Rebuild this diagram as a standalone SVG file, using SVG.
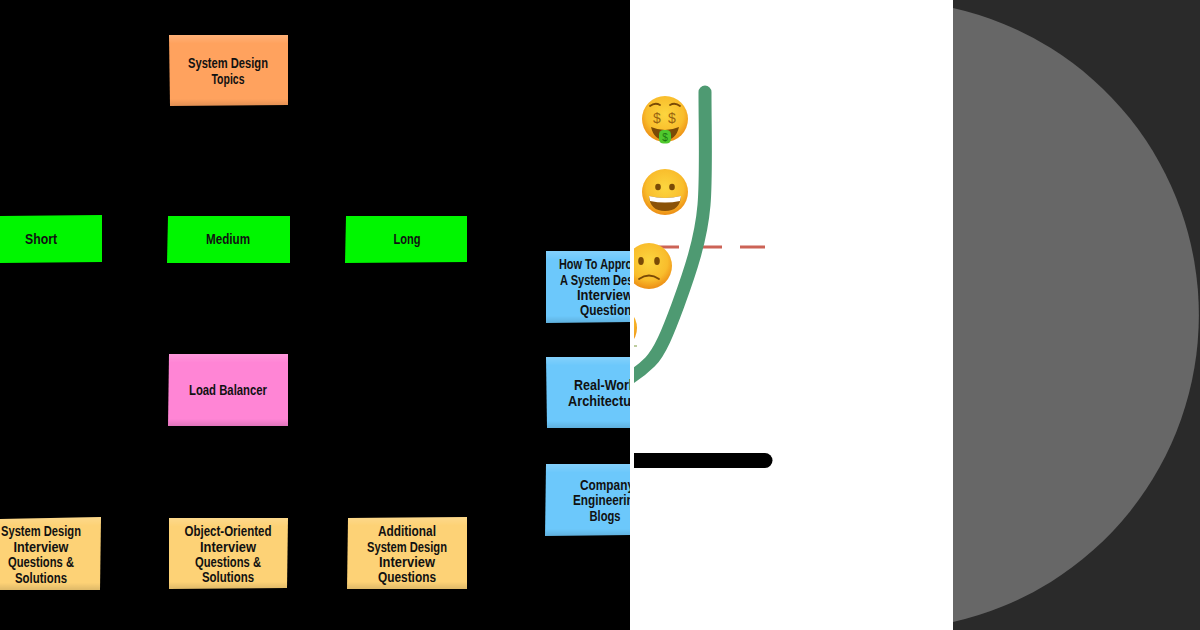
<svg xmlns="http://www.w3.org/2000/svg" width="1200" height="630" viewBox="0 0 1200 630">
<defs>
<radialGradient id="face" cx="0.5" cy="0.4" r="0.62"><stop offset="0" stop-color="#fcd63f"/><stop offset="0.65" stop-color="#f9bd2c"/><stop offset="0.92" stop-color="#ee9418"/><stop offset="1" stop-color="#e98a14"/></radialGradient>
<linearGradient id="sheen" x1="0" y1="0" x2="0" y2="1"><stop offset="0" stop-color="#fff" stop-opacity=".16"/><stop offset=".12" stop-color="#fff" stop-opacity="0"/><stop offset=".9" stop-color="#000" stop-opacity="0"/><stop offset="1" stop-color="#000" stop-opacity=".12"/></linearGradient>
<clipPath id="panel"><rect x="634" y="0" width="319" height="630"/></clipPath>
<clipPath id="left"><rect x="0" y="0" width="630" height="630"/></clipPath>
</defs>
<style>
.o{fill:#ffa25e}.g{fill:#00f600}.p{fill:#ff85d5}.y{fill:#fdd276}.b{fill:#6cc8fb}
.s{fill:url(#sheen)}
.t{font-family:"Liberation Sans",Arial,sans-serif;font-weight:700;font-size:15.500px;fill:#111;text-anchor:middle}
.eye{fill:#7a4a06}.m{fill:none;stroke:#7a4a06;stroke-width:1.800;stroke-linecap:round}
.d{font-family:"Liberation Sans",Arial,sans-serif;font-size:14px;fill:#9a6410;text-anchor:middle}
</style>
<rect width="1200" height="630" fill="#000"/>
<g clip-path="url(#left)">
<g id="topics"><polygon class="o" points="169,35 288,35 288,105 170,106"/><polygon class="s" points="169,35 288,35 288,105 170,106"/><text class="t" x="228" y="68" textLength="80" lengthAdjust="spacingAndGlyphs">System Design</text><text class="t" x="228" y="84" textLength="33" lengthAdjust="spacingAndGlyphs">Topics</text></g>
<g id="short"><polygon class="g" points="0,216 102,215 102,262 0,263"/><text class="t" x="41" y="244" textLength="32" lengthAdjust="spacingAndGlyphs">Short</text></g>
<g id="medium"><polygon class="g" points="168,216 290,216 290,263 167,263"/><text class="t" x="228" y="244" textLength="44" lengthAdjust="spacingAndGlyphs">Medium</text></g>
<g id="long"><polygon class="g" points="346,216 467,216 467,262 345,263"/><text class="t" x="407" y="244" textLength="27" lengthAdjust="spacingAndGlyphs">Long</text></g>
<g id="load-balancer"><polygon class="p" points="169,354 288,354 288,426 168,426"/><polygon class="s" points="169,354 288,354 288,426 168,426"/><text class="t" x="228" y="395" textLength="78" lengthAdjust="spacingAndGlyphs">Load Balancer</text></g>
<g id="sd-questions"><polygon class="y" points="0,519 101,517 100,590 0,590"/><polygon class="s" points="0,519 101,517 100,590 0,590"/><text class="t" x="41" y="536" textLength="80" lengthAdjust="spacingAndGlyphs">System Design</text><text class="t" x="41" y="552" textLength="55" lengthAdjust="spacingAndGlyphs">Interview</text><text class="t" x="41" y="567" textLength="66" lengthAdjust="spacingAndGlyphs">Questions &amp;</text><text class="t" x="41" y="583" textLength="52" lengthAdjust="spacingAndGlyphs">Solutions</text></g>
<g id="oo-questions"><polygon class="y" points="169,518 288,518 287,588 169,589"/><polygon class="s" points="169,518 288,518 287,588 169,589"/><text class="t" x="228" y="536" textLength="87" lengthAdjust="spacingAndGlyphs">Object-Oriented</text><text class="t" x="228" y="552" textLength="56" lengthAdjust="spacingAndGlyphs">Interview</text><text class="t" x="228" y="567" textLength="66" lengthAdjust="spacingAndGlyphs">Questions &amp;</text><text class="t" x="228" y="582" textLength="52" lengthAdjust="spacingAndGlyphs">Solutions</text></g>
<g id="additional"><polygon class="y" points="348,518 467,517 467,589 347,589"/><polygon class="s" points="348,518 467,517 467,589 347,589"/><text class="t" x="407" y="536" textLength="58" lengthAdjust="spacingAndGlyphs">Additional</text><text class="t" x="407" y="552" textLength="80" lengthAdjust="spacingAndGlyphs">System Design</text><text class="t" x="407" y="567" textLength="56" lengthAdjust="spacingAndGlyphs">Interview</text><text class="t" x="407" y="582" textLength="58" lengthAdjust="spacingAndGlyphs">Questions</text></g>
<g id="approach"><polygon class="b" points="546,251 640,251 640,322 546,323"/><polygon class="s" points="546,251 640,251 640,322 546,323"/><text class="t" x="605" y="269" textLength="92" lengthAdjust="spacingAndGlyphs">How To Approach</text><text class="t" x="605" y="285" textLength="90" lengthAdjust="spacingAndGlyphs">A System Design</text><text class="t" x="605" y="300" textLength="56" lengthAdjust="spacingAndGlyphs">Interview</text><text class="t" x="609" y="315" textLength="58" lengthAdjust="spacingAndGlyphs">Questions</text></g>
<g id="real-world"><polygon class="b" points="546,357 640,357 640,428 547,428"/><polygon class="s" points="546,357 640,357 640,428 547,428"/><text class="t" x="607" y="390" textLength="66" lengthAdjust="spacingAndGlyphs">Real-World</text><text class="t" x="609" y="406" textLength="82" lengthAdjust="spacingAndGlyphs">Architectures</text></g>
<g id="blogs"><polygon class="b" points="546,464 640,464 640,535 545,536"/><polygon class="s" points="546,464 640,464 640,535 545,536"/><text class="t" x="607" y="490" textLength="54" lengthAdjust="spacingAndGlyphs">Company</text><text class="t" x="607" y="505" textLength="68" lengthAdjust="spacingAndGlyphs">Engineering</text><text class="t" x="605" y="521" textLength="31" lengthAdjust="spacingAndGlyphs">Blogs</text></g>
</g>
<rect x="630" y="0" width="323" height="630" fill="#fff"/>
<g clip-path="url(#panel)">
<path id="threshold" d="M654 247H765" fill="none" stroke="#cc6356" stroke-width="3" stroke-dasharray="25 18"/>
<g id="emoji-money"><circle cx="665" cy="119" r="23" fill="url(#face)"/><path class="m" d="M650 106q5-4 10-1M670 105q5-3 10 1"/><path d="M651 127q14 6 28 0q-3 13-14 13t-14-13z" fill="#7a4a06"/><rect x="659" y="130" width="12" height="13.500" rx="4.500" fill="#4fc92e"/><text class="d" x="657" y="123">$</text><text class="d" x="672" y="123">$</text><text x="665" y="140.500" font-family="'Liberation Sans',sans-serif" font-size="10" fill="#1d7a12" text-anchor="middle">$</text></g>
<g id="emoji-grin"><circle cx="665" cy="192" r="23" fill="url(#face)"/><ellipse class="eye" cx="658" cy="187" rx="2.800" ry="3.200"/><ellipse class="eye" cx="672" cy="187" rx="2.800" ry="3.200"/><path d="M649 196q16 4 32 0q-1 15-16 15t-16-15z" fill="#8a5208"/><path d="M649 196q16 4 32 0l-1 5q-15 3-30 0z" fill="#fff"/></g>
<g id="emoji-sad"><circle cx="649" cy="266" r="23" fill="url(#face)"/><ellipse class="eye" cx="641" cy="261" rx="2.800" ry="4"/><ellipse class="eye" cx="657" cy="261" rx="2.800" ry="4"/><path class="m" d="M639 279q10-7 20 0"/></g>
<g id="emoji-low"><circle cx="615" cy="328" r="22" fill="url(#face)"/><path d="M634 346h3" stroke="#7f9a40" stroke-width="1"/></g>
<path id="curve" d="M705 92C705 130 706.500 175 704 205C701 240 690 272 678 305C668 332 660 352 650 362C644 368 638 373 628 379" fill="none" stroke="#4e9a72" stroke-width="13" stroke-linecap="round"/>
<path id="axis" d="M634 453H765a7.500 7.500 0 0 1 0 15H634z" fill="#000"/>
</g>
<rect x="953" y="0" width="247" height="630" fill="#2a2a2a"/>
<path id="disc" d="M953 8A314.600 314.600 0 0 1 953 622z" fill="#676767"/>
</svg>
